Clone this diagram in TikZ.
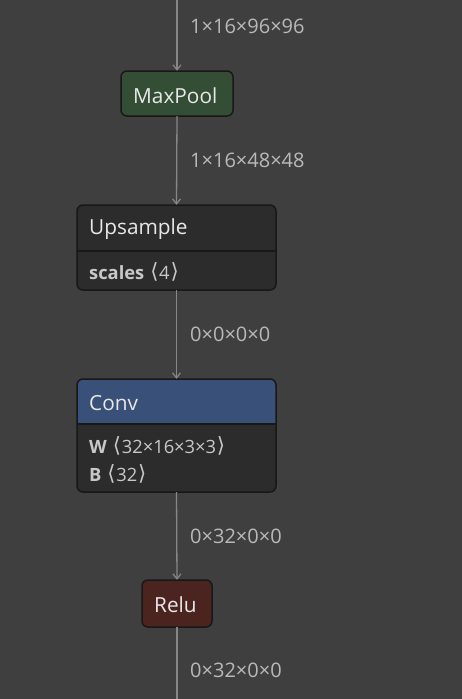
\documentclass[tikz,border=0pt]{standalone}
\usepackage{fontspec}
\setmainfont{Open Sans}
\newfontfamily\symfont{DejaVu Sans}
\newcommand{\lang}{{\symfont\fontsize{21}{22}\selectfont\raisebox{0.5pt}{⟨}}\hspace{0.8pt}}
\newcommand{\rang}{\hspace{0.8pt}{\symfont\fontsize{21}{22}\selectfont\raisebox{0.5pt}{⟩}}}
\usetikzlibrary{arrows.meta}
\definecolor{bg}{RGB}{63,63,63}
\definecolor{edge}{RGB}{135,135,135}
\definecolor{lbl}{RGB}{185,185,185}
\definecolor{boxline}{RGB}{24,24,24}
\definecolor{pool}{RGB}{52,78,54}
\definecolor{body}{RGB}{44,44,44}
\definecolor{convhead}{RGB}{57,80,120}
\definecolor{relu}{RGB}{75,36,32}
\definecolor{txt}{RGB}{232,232,232}
\definecolor{attr}{RGB}{200,200,200}
\tikzset{
  conn/.style={draw=edge, line width=1.3pt, -{Straight Barb[length=5pt,width=8pt,line width=1.2pt]}},
  plain/.style={draw=edge, line width=1.3pt},
  shape lbl/.style={anchor=west, text=lbl, font=\fontsize{20}{24}\selectfont, inner sep=0pt},
  title/.style={anchor=west, text=txt, font=\fontsize{20.8}{24}\selectfont, inner sep=0pt},
  attrtext/.style={anchor=west, text=attr, font=\fontsize{18.3}{20}\selectfont, inner sep=0pt},
}
\begin{document}
\begin{tikzpicture}[x=1pt,y=-1pt]
\fill[bg] (0,0) rectangle (462,699);
\useasboundingbox (0,0) rectangle (462,699);
% coordinates
\coordinate (top) at (177,0);
\coordinate (bot) at (177,699);
% MaxPool
\draw[boxline, fill=pool, line width=1.5pt, rounded corners=6pt] (121,71) rectangle (233,116);
\node[inner sep=0pt, minimum width=112pt, minimum height=45pt] (maxpool) at (177,93.5) {};
\node[title] at (133,96) {MaxPool};
% Upsample
\draw[boxline, fill=body, line width=1.5pt, rounded corners=6pt] (77,205) rectangle (276,290);
\draw[boxline, line width=1.5pt] (77,251) -- (276,251);
\node[inner sep=0pt, minimum width=199pt, minimum height=85pt] (upsample) at (176.5,247.5) {};
\node[title] at (89,229) {Upsample};
\node[attrtext] at (89,272) {\textbf{scales}\hspace{6pt}\lang 4\rang};
% Conv
\begin{scope}
\clip[rounded corners=6pt] (77,379) rectangle (276,492);
\fill[body] (77,379) rectangle (276,492);
\fill[convhead] (77,379) rectangle (276,424);
\end{scope}
\draw[boxline, line width=1.5pt] (77,424) -- (276,424);
\draw[boxline, line width=1.5pt, rounded corners=6pt] (77,379) rectangle (276,492);
\node[inner sep=0pt, minimum width=199pt, minimum height=113pt] (conv) at (176.5,435.5) {};
\node[title] at (89,403) {Conv};
\node[attrtext] at (89,446) {\textbf{W}\hspace{6pt}\lang 32×16×3×3\rang};
\node[attrtext] at (89,474) {\textbf{B}\hspace{6pt}\lang 32\rang};
% Relu
\draw[boxline, fill=relu, line width=1.5pt, rounded corners=6pt] (142,580) rectangle (212,627);
\node[inner sep=0pt, minimum width=70pt, minimum height=47pt] (relunode) at (177,603.5) {};
\node[title] at (154,605) {Relu};
% connectors
\draw[conn] (top) -- (maxpool.north);
\draw[conn] (maxpool.south) -- (upsample.north);
\draw[conn] (upsample.south) -- (conv.north);
\draw[conn] (conv.south) -- (relunode.north);
\draw[plain] (relunode.south) -- (bot);
% labels
\node[shape lbl] at (190,26) {1×16×96×96};
\node[shape lbl] at (190,160) {1×16×48×48};
\node[shape lbl] at (190,334) {0×0×0×0};
\node[shape lbl] at (190,536) {0×32×0×0};
\node[shape lbl] at (190,670) {0×32×0×0};
\end{tikzpicture}
\end{document}
